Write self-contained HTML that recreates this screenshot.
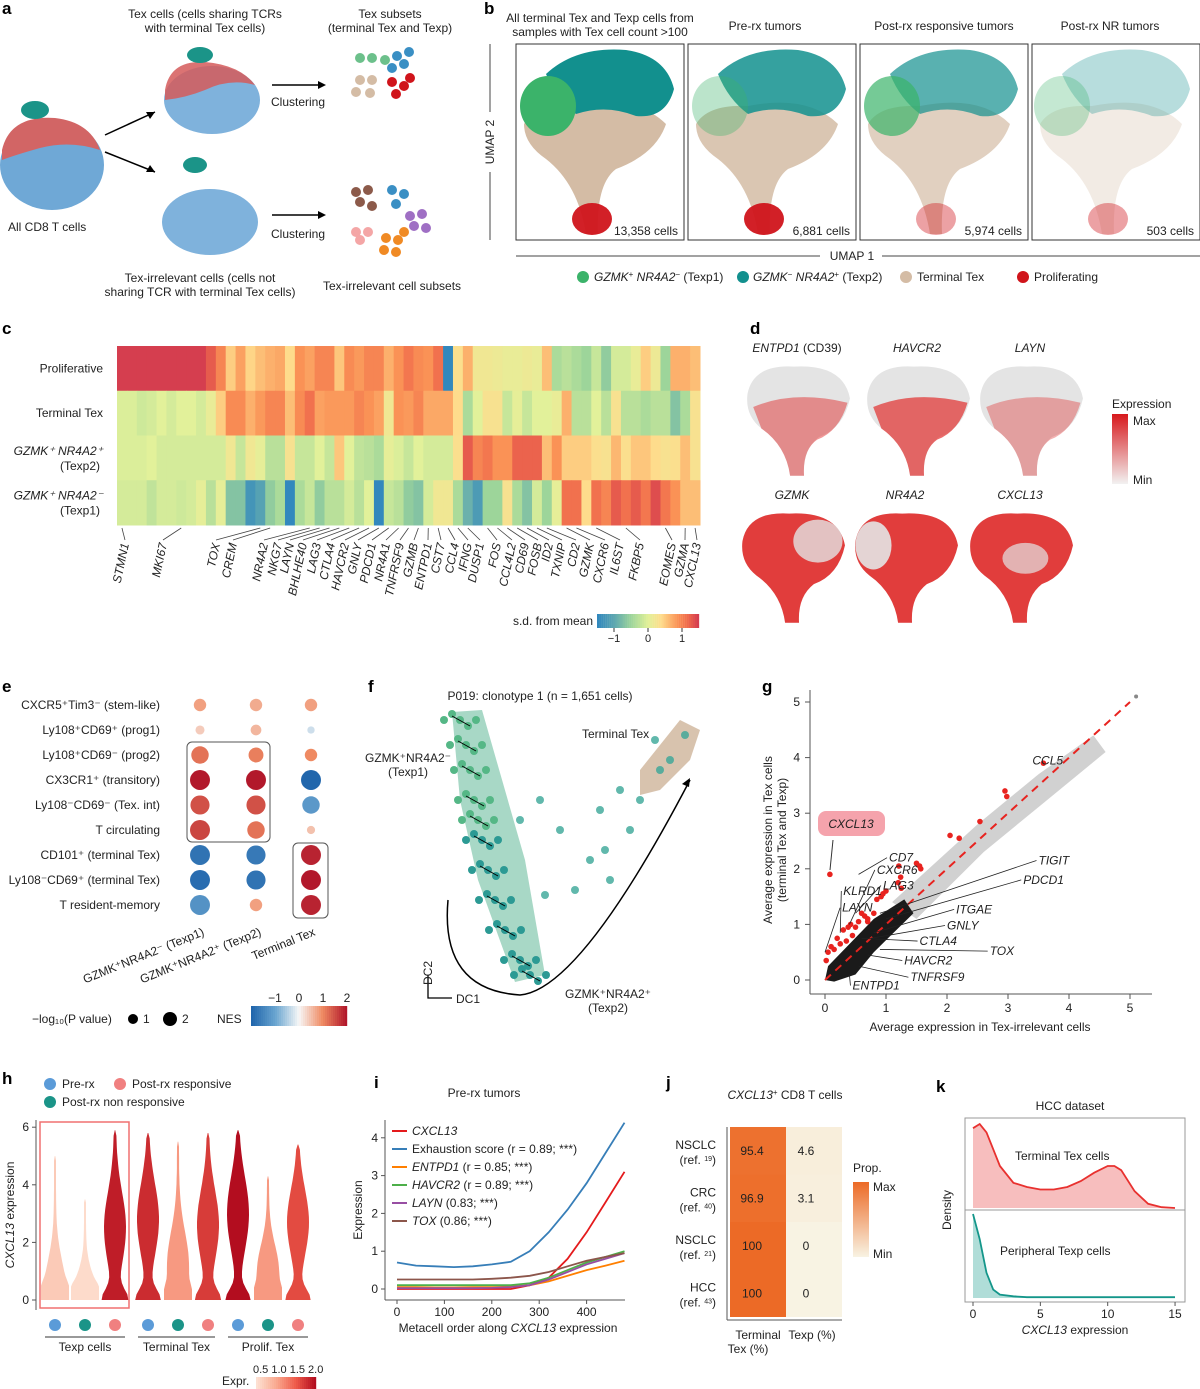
<!DOCTYPE html>
<html><head><meta charset="utf-8">
<style>
html,body{margin:0;padding:0;background:#fff;}
svg{display:block;font-family:"Liberation Sans",sans-serif;}
.pl{font-weight:bold;font-size:17px;}
.t{font-size:12px;fill:#222;}
.s{font-size:11px;fill:#222;}
.it{font-style:italic;}
</style></head>
<body>
<svg id="fig" width="1200" height="1389" viewBox="0 0 1200 1389" xmlns="http://www.w3.org/2000/svg">
<text class="pl" x="2" y="14">a</text>
<text class="pl" x="484" y="14">b</text>
<text class="pl" x="2" y="334">c</text>
<text class="pl" x="750" y="334">d</text>
<text class="pl" x="2" y="692">e</text>
<text class="pl" x="368" y="692">f</text>
<text class="pl" x="762" y="692">g</text>
<text class="pl" x="2" y="1084">h</text>
<text class="pl" x="374" y="1088">i</text>
<text class="pl" x="666" y="1088">j</text>
<text class="pl" x="936" y="1092">k</text>

<g>
 <ellipse cx="52" cy="165" rx="52" ry="45" fill="#6fa8d6"/>
 <path d="M2,150 Q10,115 55,118 Q90,122 100,150 Q70,140 40,148 Q15,155 2,160 Z" fill="#d26565"/>
 <ellipse cx="35" cy="110" rx="14" ry="9" fill="#1b9488"/>
 <text class="t" x="8" y="231">All CD8 T cells</text>
 <path d="M105,135 L155,112" stroke="#000" stroke-width="1.5"/><path d="M155,112 l-9,0 l4,7z" fill="#000"/>
 <path d="M105,152 L155,172" stroke="#000" stroke-width="1.5"/><path d="M155,172 l-5,-7 l-4,7z" fill="#000"/>
 <text class="t" x="205" y="18" text-anchor="middle">Tex cells (cells sharing TCRs</text>
 <text class="t" x="205" y="32" text-anchor="middle">with terminal Tex cells)</text>
 <ellipse cx="212" cy="100" rx="48" ry="34" fill="#7fb2dc"/>
 <path d="M165,90 Q170,60 205,62 Q240,65 255,85 Q230,78 205,90 Q185,98 165,100Z" fill="#d55a5a" opacity="0.85"/>
 <ellipse cx="200" cy="55" rx="13" ry="8" fill="#1b9488"/>
 <ellipse cx="210" cy="222" rx="48" ry="33" fill="#7fb2dc"/>
 <ellipse cx="195" cy="165" rx="12" ry="8" fill="#1b9488"/>
 <text class="t" x="298" y="106" text-anchor="middle">Clustering</text>
 <text class="t" x="298" y="238" text-anchor="middle">Clustering</text>
 <path d="M272,85 L320,85" stroke="#000" stroke-width="1.5"/><path d="M326,85 l-8,-4 v8z" fill="#000"/>
 <path d="M272,215 L320,215" stroke="#000" stroke-width="1.5"/><path d="M326,215 l-8,-4 v8z" fill="#000"/>
 <text class="t" x="390" y="18" text-anchor="middle">Tex subsets</text>
 <text class="t" x="390" y="32" text-anchor="middle">(terminal Tex and Texp)</text>
 <g id="clusters"></g>
 <text class="t" x="200" y="282" text-anchor="middle">Tex-irrelevant cells (cells not</text>
 <text class="t" x="200" y="296" text-anchor="middle">sharing TCR with terminal Tex cells)</text>
 <text class="t" x="392" y="290" text-anchor="middle">Tex-irrelevant cell subsets</text>
</g>

<g>
 <text class="t" x="600" y="22" text-anchor="middle">All terminal Tex and Texp cells from</text>
 <text class="t" x="600" y="36" text-anchor="middle">samples with Tex cell count &gt;100</text>
 <text class="t" x="765" y="30" text-anchor="middle">Pre-rx tumors</text>
 <text class="t" x="944" y="30" text-anchor="middle">Post-rx responsive tumors</text>
 <text class="t" x="1110" y="30" text-anchor="middle">Post-rx NR tumors</text>
 <g id="umapB"></g>
 <line x1="490" y1="44" x2="490" y2="240" stroke="#444"/>
 <rect x="484" y="112" width="14" height="60" fill="#fff"/>
 <text class="t" transform="translate(494,142) rotate(-90)" text-anchor="middle">UMAP 2</text>
 <line x1="516" y1="256" x2="1200" y2="256" stroke="#444"/>
 <rect x="820" y="249" width="62" height="14" fill="#fff"/>
 <text class="t" x="852" y="260" text-anchor="middle">UMAP 1</text>
 <g>
  <circle cx="583" cy="277" r="6" fill="#3bb36a"/><text class="t" x="594" y="281"><tspan class="it">GZMK</tspan><tspan baseline-shift="super" font-size="8">+</tspan><tspan class="it"> NR4A2</tspan><tspan baseline-shift="super" font-size="8">−</tspan> (Texp1)</text>
  <circle cx="743" cy="277" r="6" fill="#12908e"/><text class="t" x="753" y="281"><tspan class="it">GZMK</tspan><tspan baseline-shift="super" font-size="8">−</tspan><tspan class="it"> NR4A2</tspan><tspan baseline-shift="super" font-size="8">+</tspan> (Texp2)</text>
  <circle cx="906" cy="277" r="6" fill="#d4bca5"/><text class="t" x="917" y="281">Terminal Tex</text>
  <circle cx="1023" cy="277" r="6" fill="#d0141b"/><text class="t" x="1034" y="281">Proliferating</text>
 </g>
</g>

<g id="panelC"></g>
<g id="panelD"></g>
<g id="panelE"></g>
<g id="panelF"></g>
<g id="panelG"></g>
<g id="panelH"></g>
<g id="panelI"></g>
<g id="panelJ"></g>
<g id="panelK"></g>
</svg>

<script>
const cRows = ["Proliferative","Terminal Tex","Texp2","Texp1"];
const cProlif = [1.5,1.5,1.5,1.5,1.5,1.5,1.5,1.5,1.5,1.3, 1.0,0.5,0.8,0.45,0.6,0.7,0.75,0.4,0.9,0.8, 1.0,1.0,0.55,0.95,0.85,1.0,1.0,0.7,0.9,1.1, 0.95,0.9,1.15,-1.5,0.35,0.7,0.2,0.2,0.15,0.1, 0.1,0.15,0.1,0.6,-0.4,-0.3,-0.4,-0.5,-0.2,-0.6, -0.1,-0.1,0.1,0.5,0.15,-0.5,0.7,0.7,0.6];
const cTerm = [-0.05,-0.05,-0.15,-0.1,0,-0.1,0,0,-0.1,0.1, 0.5,0.95,0.95,0.7,0.85,1.0,1.0,0.6,0.95,1.15, 0.8,0.85,0.85,0.85,1.0,0.9,0.8,0.2,0.9,0.85, 1.0,0.75,0.75,0.75,0.4,-0.4,0,0.3,0.3,-0.2, 0.05,-0.2,0,0,0.1,0.7,-0.3,-0.3,0,-0.3, 0.3,-0.3,-0.3,-0.4,-0.3,-0.3,-0.7,-0.4,0.3];
const cTexp2 = [-0.05,-0.05,-0.05,0,-0.1,-0.1,-0.1,-0.1,-0.1,-0.1, -0.1,0.2,-0.2,0.2,0.05,-0.3,-0.3,0.3,-0.2,-0.2, 0,-0.2,0.55,0,-0.25,-0.3,-0.4,0.05,-0.05,-0.2, 0,-0.1,-0.1,-0.1,0.35,1.3,1.0,1.1,0.9,0.9, 1.25,1.25,1.25,0.6,0.9,0.5,0.5,0.5,0.35,0.3, 0.65,0.35,0.55,0.55,0.4,0.3,0.35,0.6,0.3];
const cTexp1 = [-0.1,-0.1,-0.1,-0.25,-0.1,-0.1,-0.15,-0.1,0.05,-0.3, 0.05,-0.7,-0.7,-1.3,-1.1,-0.6,-0.4,-1.5,-0.4,-0.2, -0.6,-0.3,-0.3,-0.1,-0.3,0.0,-1.5,-0.2,-0.3,-0.6, -0.7,-0.1,0.2,0.2,-0.4,-0.9,-1.2,-0.5,-0.5,0.3, -0.4,-0.7,-0.1,-0.5,0.05,1.15,1.15,0.4,1.15,1.0, 1.3,1.15,1.3,1.1,1.4,1.1,0.9,0.6,0.6];
const cGenes = ["STMN1","MKI67","TOX","CREM","NR4A2","NKG7","LAYN","BHLHE40","LAG3","CTLA4","HAVCR2","GNLY","PDCD1","NR4A1","TNFRSF9","GZMB","ENTPD1","CST7","CCL4","IFNG","DUSP1","FOS","CCL4L2","CD69","FOSB","ID2","TXNIP","CD2","GZMK","CXCR6","IL6ST","FKBP5","EOMES","GZMA","CXCL13"];
const cGeneCol = [0,6,14,15,19,20,21,22,23,24,25,26,27,28,29,30,31,32,33,34,35,37,38,39,40,41,42,43,45,46,48,51,55,57,58];

const eRows = ["CXCR5⁺Tim3⁻ (stem-like)","Ly108⁺CD69⁺ (prog1)","Ly108⁺CD69⁻ (prog2)","CX3CR1⁺ (transitory)","Ly108⁻CD69⁻ (Tex. int)","T circulating","CD101⁺ (terminal Tex)","Ly108⁻CD69⁺ (terminal Tex)","T resident-memory"];
const eNesTexp1 = [0.8,0.4,1.2,2.0,1.5,1.6,-1.8,-1.9,-1.3];
const eNesTexp2 = [0.7,0.6,1.1,2.0,1.5,1.2,-1.7,-1.8,0.8];
const eNesTerm = [0.8,-0.3,1.0,-2.0,-1.2,0.5,1.9,2.0,1.9];
const eSizeTexp1 = [1.0,0.6,1.6,1.9,1.8,1.9,1.9,1.9,1.9];
const eSizeTexp2 = [1.0,0.8,1.3,1.9,1.8,1.6,1.8,1.8,1.0];
const eSizeTerm = [1.0,0.4,1.0,1.9,1.6,0.5,1.9,1.9,1.9];

const gRedX = [0.08,1.21,1.24,1.25,1.5,1.55,1.57,2.05,2.2,2.54,2.95,2.98,3.58,0.3,0.38,0.42,0.55,0.6,0.65,0.7,0.8,0.85,0.92,0.95,1.0,0.2,0.15,0.1,0.02,0.05,0.25,0.35,0.45,1.2,0.7,0.5];
const gRedY = [1.9,2.05,1.85,1.65,2.1,2.05,2.0,2.6,2.55,2.85,3.4,3.3,3.9,0.9,0.95,1.0,1.05,1.2,1.15,1.1,1.2,1.45,1.5,1.55,1.6,0.75,0.55,0.6,0.35,0.5,0.65,0.7,0.8,1.75,1.05,0.95];
const gLabels = ["CCL5","CD7","CXCR6","LAG3","KLRD1","LAYN","TIGIT","PDCD1","ITGAE","GNLY","CTLA4","TOX","HAVCR2","TNFRSF9","ENTPD1"];
const gLabX = [3.4,1.05,0.85,0.95,0.3,0.28,3.5,3.25,2.15,2.0,1.55,2.7,1.3,1.4,0.45];
const gLabY = [3.95,2.2,1.98,1.7,1.6,1.3,2.15,1.8,1.27,0.98,0.7,0.52,0.35,0.05,-0.1];
const gPtX = [3.7,0.55,0.4,0.5,0.25,0.0,0.9,1.0,0.8,0.75,0.6,0.9,0.7,0.55,0.4];
const gPtY = [3.9,1.9,1.0,1.2,0.85,0.5,1.2,1.1,0.85,0.75,0.75,0.55,0.45,0.25,0.1];

const hGroups = ["Texp cells","Terminal Tex","Prolif. Tex"];
const hMax = [5.0,3.5,5.9,5.8,5.5,5.8,5.9,4.3,5.4];
const hMedian = [0.3,0.2,2.5,2.8,1.2,2.6,3.0,1.0,2.7];
const hExpr = [0.7,0.55,1.9,1.8,1.1,1.7,2.0,1.1,1.6];
const hCond = ["pre","post-nr","post-resp","pre","post-nr","post-resp","pre","post-nr","post-resp"];

const iX = [0,40,80,120,160,200,240,280,320,360,400,440,480];
const iCXCL13 = [0,0,0,0,0,0,0,0.1,0.3,0.8,1.5,2.3,3.1];
const iExhaust = [0.7,0.62,0.6,0.58,0.6,0.65,0.72,1.0,1.5,2.1,2.8,3.6,4.4];
const iENTPD1 = [0.05,0.05,0.04,0.04,0.05,0.05,0.06,0.1,0.2,0.35,0.5,0.62,0.75];
const iHAVCR2 = [0.1,0.1,0.1,0.1,0.1,0.1,0.1,0.15,0.3,0.5,0.7,0.85,1.0];
const iLAYN = [0.02,0.02,0.02,0.02,0.02,0.03,0.05,0.1,0.25,0.45,0.65,0.8,0.95];
const iTOX = [0.25,0.25,0.25,0.25,0.25,0.27,0.3,0.35,0.45,0.6,0.75,0.85,0.95];
const iYTicks = [0,1,2,3,4];
const iXTicks = [0,100,200,300,400];

const jCancers = ["NSCLC","CRC","NSCLC","HCC"];
const jRefs = ["19","40","21","43"];
const jTerminal = [95.4,96.9,100,100];
const jTexp = [4.6,3.1,0,0];

const kX = [0,0.5,1,1.5,2,3,4,5,6,7,8,9,10,10.5,11,12,13,14,15];
const kTerminal = [0.95,1.0,0.9,0.7,0.5,0.3,0.25,0.22,0.22,0.25,0.32,0.42,0.5,0.5,0.45,0.2,0.05,0.01,0];
const kPeripheral = [1.0,0.7,0.3,0.1,0.04,0.02,0.01,0.01,0.01,0.01,0.01,0.01,0.01,0.01,0.01,0.01,0.01,0.01,0.01];
const kXTicks = [0,5,10,15];

const NS = "http://www.w3.org/2000/svg";
function mk(tag, attrs, parent){const e=document.createElementNS(NS,tag);for(const k in attrs)e.setAttribute(k,attrs[k]);parent.appendChild(e);return e;}
function lerp(a,b,t){return a+(b-a)*t;}
function hex(c){return [parseInt(c.slice(1,3),16),parseInt(c.slice(3,5),16),parseInt(c.slice(5,7),16)];}
function ramp(stops, v){
 if(v<=stops[0][0])return stops[0][1];
 for(let i=1;i<stops.length;i++){if(v<=stops[i][0]){const t=(v-stops[i-1][0])/(stops[i][0]-stops[i-1][0]);const a=hex(stops[i-1][1]),b=hex(stops[i][1]);return `rgb(${Math.round(lerp(a[0],b[0],t))},${Math.round(lerp(a[1],b[1],t))},${Math.round(lerp(a[2],b[2],t))})`;}}
 return stops[stops.length-1][1];}
const spectral=[[-1.5,"#3288bd"],[-1,"#5fa8b0"],[-0.5,"#9dd59a"],[0,"#e2f19a"],[0.4,"#fedc8c"],[0.9,"#fa9256"],[1.2,"#ef6a4c"],[1.5,"#d53e4f"]];
const nesRamp=[[-2,"#2166ac"],[-1,"#6aa5d0"],[0,"#f7f7f7"],[1,"#ef8a62"],[2,"#b2182b"]];

(function(){const g=document.getElementById("clusters");
 const top=[[360,58,"#6cc08b"],[372,58,"#6cc08b"],[385,60,"#6cc08b"],[397,56,"#3a8fc4"],[409,52,"#3a8fc4"],[404,64,"#3a8fc4"],[360,80,"#d4bca5"],[372,80,"#d4bca5"],[356,92,"#d4bca5"],[370,93,"#d4bca5"],[392,82,"#d0141b"],[404,86,"#d0141b"],[396,94,"#d0141b"],[410,78,"#d0141b"],[392,68,"#3a8fc4"]];
 const bot=[[356,192,"#8c5a4a"],[368,190,"#8c5a4a"],[360,202,"#8c5a4a"],[372,206,"#8c5a4a"],[392,190,"#3a8fc4"],[404,194,"#3a8fc4"],[396,204,"#3a8fc4"],[410,216,"#9f6fc4"],[422,214,"#9f6fc4"],[414,226,"#9f6fc4"],[426,228,"#9f6fc4"],[356,232,"#f4a6a6"],[368,232,"#f4a6a6"],[360,240,"#f4a6a6"],[386,238,"#f08a24"],[398,240,"#f08a24"],[384,250,"#f08a24"],[396,252,"#f08a24"],[404,232,"#f08a24"]];
 top.concat(bot).forEach(p=>{const c=mk("circle",{cx:p[0],cy:p[1],r:5,fill:p[2]},g);
 
 });})();

(function(){const g=document.getElementById("umapB");
 const boxes=[[516,"13,358 cells",1],[688,"6,881 cells",0.85],[860,"5,974 cells",0.7],[1032,"503 cells",0.3]];
 boxes.forEach((b,i)=>{const x=b[0],y=44,w=168,h=196;
  const r=mk("rect",{x:x,y:y,width:w,height:h,fill:"#fff",stroke:"#333","stroke-width":1},g);
  
  
  const op=b[2];
  mk("path",{d:`M${x+8},${y+80} Q${x+20},${y+60} ${x+60},${y+62} Q${x+120},${y+50} ${x+150},${y+80} Q${x+140},${y+110} ${x+100},${y+125} Q${x+80},${y+140} ${x+82},${y+190} L${x+70},${y+190} Q${x+62},${y+140} ${x+30},${y+115} Q${x+8},${y+100} ${x+8},${y+80}Z`,fill:"#d4bca5",opacity:op},g);
  mk("path",{d:`M${x+30},${y+30} Q${x+60},${y+2} ${x+110},${y+6} Q${x+150},${y+12} ${x+158},${y+45} Q${x+150},${y+75} ${x+120},${y+72} Q${x+90},${y+60} ${x+60},${y+70} Q${x+40},${y+55} ${x+30},${y+30}Z`,fill:"#12908e",opacity:op},g);
  mk("ellipse",{cx:x+(i==3?30:32),cy:y+62,rx:28,ry:30,fill:"#3bb36a",opacity:i==1?0.35:op},g);
  mk("ellipse",{cx:x+76,cy:y+175,rx:20,ry:16,fill:"#d0141b",opacity:i==2||i==3?0.4:0.95},g);
  const t=mk("text",{x:x+w-6,y:y+h-5,"text-anchor":"end",class:"t"},g);t.textContent=b[1];
  
  });})();

(function(){const g=document.getElementById("panelC");
 const x0=117,x1=700,y0=346,rh=44.75;const rows=[cProlif,cTerm,cTexp2,cTexp1];
 const n=cProlif.length,cw=(x1-x0)/n;
 rows.forEach((row,ri)=>{row.forEach((v,ci)=>{const r=mk("rect",{x:x0+ci*cw,y:y0+ri*rh,width:cw+0.5,height:rh+0.5,fill:ramp(spectral,v)},g);
  
  });});
 const lbl=[["Proliferative",null],["Terminal Tex",null],["GZMK⁺ NR4A2⁺","(Texp2)"],["GZMK⁺ NR4A2⁻","(Texp1)"]];
 lbl.forEach((l,i)=>{const cy=y0+i*rh+rh/2;
  if(l[1]){const t=mk("text",{x:103,y:cy-3,"text-anchor":"end",class:"t it"},g);t.textContent=l[0];
   
   
   const t2=mk("text",{x:80,y:cy+12,"text-anchor":"middle",class:"t"},g);t2.textContent=l[1];
   
   }
  else{const t=mk("text",{x:103,y:cy+4,"text-anchor":"end",class:"t"},g);t.textContent=l[0];
   
   }});
 const lx=[125,163,216,233,264,278,290,303,317,331,345,358,372,386,400,414,428,441,455,468,480,497,512,525,538,549,562,576,590,605,620,640,672,685,697];
 cGenes.forEach((gname,i)=>{const cx=x0+(cGeneCol[i]+0.5)*cw;
  mk("line",{x1:cx,y1:528,x2:lx[i],y2:540,stroke:"#444","stroke-width":0.8},g);
  const t=mk("text",{transform:`translate(${lx[i]+4},${544}) rotate(-78)`,"text-anchor":"end",class:"t it"},g);t.textContent=gname;
  
  });
 const st=mk("text",{x:593,y:625,"text-anchor":"end",class:"t"},g);st.textContent="s.d. from mean";
 
 
 for(let k=0;k<50;k++){const v=-1.5+3*k/49;mk("rect",{x:597+k*2.04,y:614,width:2.2,height:14,fill:ramp(spectral,v)},g);}
 [[-1,"−1"],[0,"0"],[1,"1"]].forEach(tk=>{const x=597+(tk[0]+1.5)/3*102;mk("line",{x1:x,y1:628,x2:x,y2:632,stroke:"#333"},g);const t=mk("text",{x:x,y:642,"text-anchor":"middle",class:"s"},g);t.textContent=tk[1];
  
  });})();

(function(){const g=document.getElementById("panelD");
 const titles=["ENTPD1","HAVCR2","LAYN","GZMK","NR4A2","CXCL13"];
 const cx=[797,917,1030,792,905,1020],cy=[348,348,348,495,495,495];
 const red=[0.45,0.65,0.35,0.8,0.75,0.7];
 titles.forEach((tt,i)=>{
  const t=mk("text",{x:cx[i],y:cy[i]+4,"text-anchor":"middle",class:"t it"},g);t.textContent=tt;
  if(i==0){t.textContent="";const a=mk("tspan",{},t);a.textContent="ENTPD1";const b=mk("tspan",{"font-style":"normal"},t);b.textContent=" (CD39)";}
  
  
  const sg=mk("g",{transform:`translate(${cx[i]-52},${cy[i]+16}) scale(0.82,0.86)`},g);
  const x=0,y=0;
  const body=`M${x+3},${y+35} Q${x+10},${y} ${x+60},${y+3} Q${x+120},${y} ${x+128},${y+40} Q${x+120},${y+75} ${x+90},${y+85} Q${x+70},${y+100} ${x+72},${y+130} L${x+55},${y+130} Q${x+50},${y+95} ${x+20},${y+75} Q${x},${y+60} ${x+3},${y+35}Z`;
  const p=mk("path",{d:body,fill:"#e4e4e4"},sg);
  
  
  if(i<3){mk("path",{d:`M${x+10},${y+50} Q${x+60},${y+30} ${x+125},${y+45} Q${x+115},${y+78} ${x+88},${y+88} Q${x+70},${y+100} ${x+72},${y+130} L${x+55},${y+130} Q${x+50},${y+95} ${x+20},${y+75}Z`,fill:"#e0201f",opacity:red[i]},sg);}
  else if(i==3){mk("path",{d:body,fill:"#e0201f",opacity:0.85},sg);mk("ellipse",{cx:x+95,cy:y+35,rx:30,ry:25,fill:"#e4e4e4",opacity:0.8},sg);}
  else if(i==4){mk("path",{d:body,fill:"#e0201f",opacity:0.85},sg);mk("ellipse",{cx:x+25,cy:y+40,rx:22,ry:28,fill:"#e4e4e4",opacity:0.9},sg);}
  else{mk("path",{d:body,fill:"#e0201f",opacity:0.85},sg);mk("ellipse",{cx:x+70,cy:y+55,rx:28,ry:18,fill:"#e4e4e4",opacity:0.7},sg);}
 });
 const lt=mk("text",{x:1112,y:408,class:"t"},g);lt.textContent="Expression";
 
 
 const grd=mk("linearGradient",{id:"gexp",x1:0,y1:0,x2:0,y2:1},g);mk("stop",{offset:0,"stop-color":"#d7191c"},grd);mk("stop",{offset:1,"stop-color":"#f2f2f2"},grd);
 mk("rect",{x:1112,y:414,width:16,height:70,fill:"url(#gexp)"},g);
 const mx=mk("text",{x:1133,y:425,class:"t"},g);mx.textContent="Max";
 
 
 const mn=mk("text",{x:1133,y:484,class:"t"},g);mn.textContent="Min";
 
 })();

(function(){const g=document.getElementById("panelE");
 const xs=[200,256,311];const y0=705,dy=25;
 mk("rect",{x:187,y:742,width:83,height:100,rx:5,fill:"none",stroke:"#555"},g);
 mk("rect",{x:293,y:843,width:35,height:75,rx:5,fill:"none",stroke:"#555"},g);
 const nes=[eNesTexp1,eNesTexp2,eNesTerm],sz=[eSizeTexp1,eSizeTexp2,eSizeTerm];
 eRows.forEach((r,i)=>{const t=mk("text",{x:160,y:y0+i*dy+4,"text-anchor":"end",class:"t"},g);t.textContent=r;
  
  
  for(let c=0;c<3;c++){const d=mk("circle",{cx:xs[c],cy:y0+i*dy,r:2+sz[c][i]*4.2,fill:ramp(nesRamp,nes[c][i])},g);
   
   }});
 const xl=[["GZMK⁺NR4A2⁻ (Texp1)",205],["GZMK⁺NR4A2⁺ (Texp2)",262],["Terminal Tex",316]];
 xl.forEach(l=>{const t=mk("text",{transform:`translate(${l[1]},${935}) rotate(-22)`,"text-anchor":"end",class:"t"},g);t.textContent=l[0];
  
  });
 const a=mk("text",{x:32,y:1023,class:"t"},g);a.textContent="−log₁₀(P value)";
 
 
 mk("circle",{cx:133,cy:1019,r:5,fill:"#000"},g);const t1=mk("text",{x:143,y:1023,class:"t"},g);t1.textContent="1";
 mk("circle",{cx:170,cy:1019,r:7,fill:"#000"},g);const t2=mk("text",{x:182,y:1023,class:"t"},g);t2.textContent="2";
 const nt=mk("text",{x:217,y:1023,class:"t"},g);nt.textContent="NES";
 
 
 for(let k=0;k<48;k++){mk("rect",{x:251+k*2,y:1006,width:2.2,height:20,fill:ramp(nesRamp,-2+4*k/47)},g);}
 [[-1,"−1"],[0,"0"],[1,"1"],[2,"2"]].forEach(tk=>{const x=251+(tk[0]+2)/4*96;const t=mk("text",{x:x,y:1002,"text-anchor":"middle",class:"t"},g);t.textContent=tk[1];});})();

(function(){const g=document.getElementById("panelF");
 const tt=mk("text",{x:540,y:700,"text-anchor":"middle",class:"t"},g);tt.textContent="P019: clonotype 1 (n = 1,651 cells)";
 
 
 mk("path",{d:"M448,900 Q440,990 520,995 Q580,990 690,780",fill:"none",stroke:"#000","stroke-width":1.5},g);
 mk("path",{d:"M690,778 l-8,6 l7,3z",fill:"#000"},g);
 mk("path",{d:"M452,712 L482,710 L525,860 L545,975 L515,982 L478,880 L460,800Z",fill:"#3fa880",opacity:0.45},g);
 const pts=[[460,720],[466,745],[470,770],[474,800],[478,820],[482,840],[488,870],[495,900],[505,930],[520,960],[530,975]];
 pts.forEach((p,i)=>{for(let k=-2;k<=2;k++){const c=mk("circle",{cx:p[0]+k*8,cy:p[1]+(k%2)*6,r:4,fill:i<5?"#55b786":"#2c9a94"},g);
   
   }
  mk("line",{x1:p[0]-8,y1:p[1]-4,x2:p[0]+10,y2:p[1]+6,stroke:"#000","stroke-width":1},g);});
 mk("path",{d:"M640,770 L680,720 L700,730 L690,760 L660,790 L640,795Z",fill:"#d4bca5",opacity:0.9},g);
 [[540,800],[560,830],[590,860],[610,880],[620,790],[600,810],[575,890],[605,850],[640,800],[630,830],[520,820],[545,895],[655,740],[670,760],[685,735],[660,770]].forEach(p=>{mk("circle",{cx:p[0],cy:p[1],r:4,fill:"#3aa697",opacity:0.8},g);});
 const l1=mk("text",{x:582,y:738,class:"t"},g);l1.textContent="Terminal Tex";
 const l2=mk("text",{x:408,y:762,"text-anchor":"middle",class:"t"},g);l2.textContent="GZMK⁺NR4A2⁻";
 const l3=mk("text",{x:408,y:776,"text-anchor":"middle",class:"t"},g);l3.textContent="(Texp1)";
 const l4=mk("text",{x:608,y:998,"text-anchor":"middle",class:"t"},g);l4.textContent="GZMK⁺NR4A2⁺";
 const l5=mk("text",{x:608,y:1012,"text-anchor":"middle",class:"t"},g);l5.textContent="(Texp2)";
 mk("path",{d:"M428,975 V998 H452",fill:"none",stroke:"#000","stroke-width":1.3},g);
 const dc2=mk("text",{transform:"translate(432,985) rotate(-90)",class:"t"},g);dc2.textContent="DC2";
 const dc1=mk("text",{x:456,y:1003,class:"t"},g);dc1.textContent="DC1";})();

(function(){const g=document.getElementById("panelG");
 const X=v=>825+v*61,Y=v=>980-v*55.6;
 mk("line",{x1:810,y1:690,x2:810,y2:994,stroke:"#555"},g);
 mk("line",{x1:810,y1:994,x2:1152,y2:994,stroke:"#555"},g);
 [0,1,2,3,4,5].forEach(v=>{mk("line",{x1:805,y1:Y(v),x2:810,y2:Y(v),stroke:"#555"},g);
  const t=mk("text",{x:800,y:Y(v)+4,"text-anchor":"end",class:"t"},g);t.textContent=v;
  
  
  mk("line",{x1:X(v),y1:994,x2:X(v),y2:999,stroke:"#555"},g);
  const t2=mk("text",{x:X(v),y:1012,"text-anchor":"middle",class:"t"},g);t2.textContent=v;
  
  });
 const xt=mk("text",{x:980,y:1031,"text-anchor":"middle",class:"t"},g);xt.textContent="Average expression in Tex-irrelevant cells";
 
 
 const yt=mk("text",{transform:"translate(772,840) rotate(-90)","text-anchor":"middle",class:"t"},g);yt.textContent="Average expression in Tex cells";
 
 
 const yt2=mk("text",{transform:"translate(786,840) rotate(-90)","text-anchor":"middle",class:"t"},g);yt2.textContent="(terminal Tex and Texp)";
 mk("path",{d:`M${X(1.1)},${Y(1.4)} L${X(2.5)},${Y(2.8)} L${X(3.5)},${Y(3.7)} L${X(4.4)},${Y(4.4)} L${X(4.6)},${Y(4.1)} L${X(3.6)},${Y(3.2)} L${X(2.6)},${Y(2.3)} L${X(1.5)},${Y(1.1)}Z`,fill:"#9a9a9a",opacity:0.45},g);
 mk("path",{d:`M${X(0)},${Y(0)} L${X(0.05)},${Y(0.25)} L${X(0.8)},${Y(1.1)} L${X(1.3)},${Y(1.45)} L${X(1.45)},${Y(1.2)} L${X(0.8)},${Y(0.5)} L${X(0.5)},${Y(0.1)} L${X(0.15)},${Y(-0.03)}Z`,fill:"#1a1a1a"},g);
 mk("line",{x1:X(0),y1:Y(0),x2:X(5),y2:Y(5),stroke:"#e8231f","stroke-width":2,"stroke-dasharray":"8,6"},g);
 gRedX.forEach((v,i)=>{const c=mk("circle",{cx:X(v),cy:Y(gRedY[i]),r:2.8,fill:"#e8231f"},g);
  
  });
 mk("circle",{cx:X(5.1),cy:Y(5.1),r:2,fill:"#888"},g);
 mk("rect",{x:818,y:811,width:67,height:25,rx:8,fill:"#f5a3ac"},g);
 const cx=mk("text",{x:851,y:828,"text-anchor":"middle",class:"t it"},g);cx.textContent="CXCL13";
 
 
 mk("line",{x1:833,y1:840,x2:830,y2:870,stroke:"#333"},g);
 gLabels.forEach((l,i)=>{const t=mk("text",{x:X(gLabX[i]),y:Y(gLabY[i])+4,class:"t it"},g);t.textContent=l;
  
  
  if(i>0)mk("line",{x1:X(gLabX[i])-2,y1:Y(gLabY[i]),x2:X(gPtX[i]),y2:Y(gPtY[i]),stroke:"#222","stroke-width":0.8},g);});})();

(function(){const g=document.getElementById("panelH");
 const Y=v=>1300-v*28.8;const xs=[55,85,115,148,178,208,238,268,298];
 mk("line",{x1:36,y1:1120,x2:36,y2:1310,stroke:"#555"},g);
 [0,2,4,6].forEach(v=>{mk("line",{x1:32,y1:Y(v),x2:36,y2:Y(v),stroke:"#555"},g);const t=mk("text",{x:29,y:Y(v)+4,"text-anchor":"end",class:"t"},g);t.textContent=v;
  
  });
 const yl=mk("text",{transform:"translate(14,1215) rotate(-90)","text-anchor":"middle",class:"t"},g);
 const a=mk("tspan",{"font-style":"italic"},yl);a.textContent="CXCL13";const b=mk("tspan",{},yl);b.textContent=" expression";
 
 
 const er=[[0.5,"#fde0d2"],[1.0,"#f9a98f"],[1.5,"#ef5b4a"],[2.0,"#b30d1f"]];
 xs.forEach((x,i)=>{const m=hMax[i],md=hMedian[i];let l=[],r=[];
  for(let k=0;k<=30;k++){const v=m*k/30;const w=11*Math.exp(-Math.pow(v/0.5,2))+10*Math.exp(-Math.pow((v-md)/(m*0.3),2))+1;const ww=Math.min(w,14)*(k==30?0.2:1);l.push([x-ww,Y(v)]);r.unshift([x+ww,Y(v)]);}
  const d="M"+l.concat(r).map(p=>p[0].toFixed(1)+","+p[1].toFixed(1)).join(" L")+"Z";
  const p=mk("path",{d:d,fill:ramp(er,hExpr[i])},g);
  
  
  const cc={"pre":"#5b9bd8","post-nr":"#1b9488","post-resp":"#f08080"}[hCond[i]];
  const c=mk("circle",{cx:x,cy:1325,r:6,fill:cc},g);
  
  });
 mk("rect",{x:40,y:1122,width:89,height:186,fill:"none",stroke:"#f07070","stroke-width":1.5},g);
 [[45,125],[138,215],[228,308]].forEach((s,i)=>{mk("line",{x1:s[0],y1:1337,x2:s[1],y2:1337,stroke:"#333"},g);const t=mk("text",{x:(s[0]+s[1])/2,y:1351,"text-anchor":"middle",class:"t"},g);t.textContent=hGroups[i];
  
  });
 const lg=[[50,1084,"#5b9bd8","Pre-rx"],[120,1084,"#f08080","Post-rx responsive"],[50,1102,"#1b9488","Post-rx non responsive"]];
 lg.forEach(l=>{mk("circle",{cx:l[0],cy:l[1],r:6,fill:l[2]},g);const t=mk("text",{x:l[0]+12,y:l[1]+4,class:"t"},g);t.textContent=l[3];
  
  });
 const et=mk("text",{x:222,y:1385,class:"t"},g);et.textContent="Expr.";
 for(let k=0;k<30;k++)mk("rect",{x:256+k*2,y:1377,width:2.2,height:12,fill:ramp(er,0.5+1.5*k/29)},g);
 const tl=mk("text",{x:253,y:1373,class:"s","font-size":"9"},g);tl.textContent="0.5 1.0 1.5 2.0";})();

(function(){const g=document.getElementById("panelI");
 const X=v=>397+v*0.474,Y=v=>1289-v*37.8;
 const t=mk("text",{x:484,y:1097,"text-anchor":"middle",class:"t"},g);t.textContent="Pre-rx tumors";
 
 
 mk("line",{x1:385,y1:1120,x2:385,y2:1300,stroke:"#555"},g);
 mk("line",{x1:385,y1:1300,x2:625,y2:1300,stroke:"#555"},g);
 iYTicks.forEach(v=>{mk("line",{x1:381,y1:Y(v),x2:385,y2:Y(v),stroke:"#555"},g);const tt=mk("text",{x:378,y:Y(v)+4,"text-anchor":"end",class:"t"},g);tt.textContent=v;
  
  });
 iXTicks.forEach(v=>{mk("line",{x1:X(v),y1:1300,x2:X(v),y2:1304,stroke:"#555"},g);const tt=mk("text",{x:X(v),y:1316,"text-anchor":"middle",class:"t"},g);tt.textContent=v;
  
  });
 const xt=mk("text",{x:508,y:1332,"text-anchor":"middle",class:"t"},g);xt.innerHTML='Metacell order along <tspan font-style="italic">CXCL13</tspan> expression';
 
 
 const yt=mk("text",{transform:"translate(362,1210) rotate(-90)","text-anchor":"middle",class:"t"},g);yt.textContent="Expression";
 
 
 const series=[[iCXCL13,"#e41a1c","CXCL13",""],[iExhaust,"#377eb8","Exhaustion score"," (r = 0.89; ***)"],[iENTPD1,"#ff7f00","ENTPD1"," (r = 0.85; ***)"],[iHAVCR2,"#4daf4a","HAVCR2"," (r = 0.89; ***)"],[iLAYN,"#984ea3","LAYN"," (0.83; ***)"],[iTOX,"#8c564b","TOX"," (0.86; ***)"]];
 series.forEach((s,si)=>{const d="M"+iX.map((x,k)=>X(x).toFixed(1)+","+Y(s[0][k]).toFixed(1)).join(" L");
  const p=mk("path",{d:d,fill:"none",stroke:s[1],"stroke-width":1.8},g);
  
  
  const ly=1131+si*18;mk("line",{x1:392,y1:ly,x2:407,y2:ly,stroke:s[1],"stroke-width":2},g);
  const tt=mk("text",{x:412,y:ly+4,class:"t"},g);const a=mk("tspan",{"font-style":si==1?"normal":"italic"},tt);a.textContent=s[2];const b=mk("tspan",{},tt);b.textContent=s[3];
  
  });})();

(function(){const g=document.getElementById("panelJ");
 const t=mk("text",{x:785,y:1099,"text-anchor":"middle",class:"t"},g);t.innerHTML='<tspan font-style="italic">CXCL13</tspan><tspan baseline-shift="super" font-size="8">+</tspan> CD8 T cells';
 
 
 const jr=[[0,"#f8f3e3"],[50,"#f5b98a"],[100,"#ec6a26"]];
 const x0=730,cw=56,y0=1127,rh=47.5;
 jCancers.forEach((c,i)=>{[jTerminal[i],jTexp[i]].forEach((v,k)=>{const r=mk("rect",{x:x0+k*cw,y:y0+i*rh,width:cw,height:rh,fill:ramp(jr,v)},g);
   
   
   const tt=mk("text",{x:x0+k*cw+(k?20:22),y:y0+i*rh+rh/2+4,"text-anchor":"middle",class:"t"},g);tt.textContent=v;});
  const l=mk("text",{x:716,y:y0+i*rh+rh/2-2,"text-anchor":"end",class:"t"},g);l.textContent=c;
  
  
  const l2=mk("text",{x:716,y:y0+i*rh+rh/2+13,"text-anchor":"end",class:"t"},g);l2.innerHTML='(ref. <tspan baseline-shift="super" font-size="7">'+jRefs[i]+'</tspan>)';});
 mk("line",{x1:x0-3,y1:y0,x2:x0-3,y2:y0+4*rh+3,stroke:"#555"},g);
 mk("line",{x1:x0-3,y1:y0+4*rh+3,x2:x0+2*cw,y2:y0+4*rh+3,stroke:"#555"},g);
 const a=mk("text",{x:758,y:1339,"text-anchor":"middle",class:"t"},g);a.textContent="Terminal";
 const a2=mk("text",{x:748,y:1353,"text-anchor":"middle",class:"t"},g);a2.textContent="Tex (%)";
 const b=mk("text",{x:812,y:1339,"text-anchor":"middle",class:"t"},g);b.textContent="Texp (%)";
 const pt=mk("text",{x:853,y:1172,class:"t"},g);pt.textContent="Prop.";
 const grd=mk("linearGradient",{id:"gprop",x1:0,y1:0,x2:0,y2:1},g);mk("stop",{offset:0,"stop-color":"#ec6a26"},grd);mk("stop",{offset:1,"stop-color":"#f8f3e3"},grd);
 mk("rect",{x:853,y:1182,width:16,height:75,fill:"url(#gprop)"},g);
 const mx=mk("text",{x:873,y:1191,class:"t"},g);mx.textContent="Max";
 const mn=mk("text",{x:873,y:1258,class:"t"},g);mn.textContent="Min";})();

(function(){const g=document.getElementById("panelK");
 const X=v=>973+v*13.47;
 const t=mk("text",{x:1070,y:1110,"text-anchor":"middle",class:"t"},g);t.textContent="HCC dataset";
 
 
 mk("rect",{x:965,y:1118,width:220,height:184,fill:"none",stroke:"#999"},g);
 mk("line",{x1:965,y1:1210,x2:1185,y2:1210,stroke:"#999"},g);
 const draw=(arr,base,hgt,fill,stroke,name)=>{const pts=kX.map((x,k)=>X(x).toFixed(1)+","+(base-arr[k]*hgt).toFixed(1));
  const a=mk("path",{d:"M"+X(0)+","+base+" L"+pts.join(" L")+" L"+X(15)+","+base+"Z",fill:fill,opacity:0.7},g);
  
  
  const l=mk("path",{d:"M"+pts.join(" L"),fill:"none",stroke:stroke,"stroke-width":1.8},g);
  
  };
 draw(kTerminal,1208,84,"#f4a3a3","#e8312f","terminal-density");
 draw(kPeripheral,1298,84,"#8fcfc7","#14968a","peripheral-density");
 const l1=mk("text",{x:1015,y:1160,class:"t"},g);l1.textContent="Terminal Tex cells";
 const l2=mk("text",{x:1000,y:1255,class:"t"},g);l2.textContent="Peripheral Texp cells";
 kXTicks.forEach(v=>{mk("line",{x1:X(v),y1:1302,x2:X(v),y2:1306,stroke:"#555"},g);const tt=mk("text",{x:X(v),y:1318,"text-anchor":"middle",class:"t"},g);tt.textContent=v;
  
  });
 const xt=mk("text",{x:1075,y:1334,"text-anchor":"middle",class:"t"},g);xt.innerHTML='<tspan font-style="italic">CXCL13</tspan> expression';
 
 
 const yt=mk("text",{transform:"translate(951,1210) rotate(-90)","text-anchor":"middle",class:"t"},g);yt.textContent="Density";
 
 })();
</script>
</body></html>
